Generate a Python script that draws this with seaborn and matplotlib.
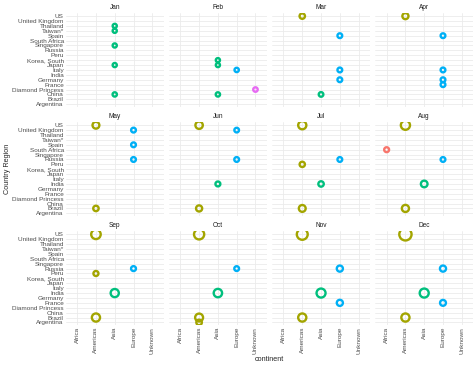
import pandas as pd
import numpy as np
import matplotlib
matplotlib.use("Agg")
import matplotlib.pyplot as plt
import seaborn as sns

# categories
months = ["Jan", "Feb", "Mar", "Apr", "May", "Jun",
          "Jul", "Aug", "Sep", "Oct", "Nov", "Dec"]
continents = ["Africa", "Americas", "Asia", "Europe", "Unknown"]
countries = ["Argentina", "Brazil", "China", "Diamond Princess", "France",
             "Germany", "India", "Italy", "Japan", "Korea, South", "Peru",
             "Russia", "Singapore", "South Africa", "Spain", "Taiwan*",
             "Thailand", "United Kingdom", "US"]
country_continent = ["Americas", "Americas", "Asia", "Unknown", "Europe",
                     "Europe", "Asia", "Europe", "Asia", "Asia", "Americas",
                     "Europe", "Asia", "Africa", "Europe", "Asia",
                     "Asia", "Europe", "Americas"]

point_month = (["Jan"] * 5 + ["Feb"] * 5 + ["Mar"] * 5 + ["Apr"] * 5 +
               ["May"] * 5 + ["Jun"] * 5 + ["Jul"] * 5 + ["Aug"] * 5 +
               ["Sep"] * 5 + ["Oct"] * 5 + ["Nov"] * 5 + ["Dec"] * 5)
point_country = [
    "Thailand", "Taiwan*", "Singapore", "Japan", "China",
    "Korea, South", "Japan", "Italy", "Diamond Princess", "China",
    "US", "Spain", "Italy", "Germany", "China",
    "US", "Spain", "Italy", "Germany", "France",
    "US", "United Kingdom", "Spain", "Russia", "Brazil",
    "US", "United Kingdom", "Russia", "India", "Brazil",
    "US", "Peru", "Russia", "India", "Brazil",
    "US", "South Africa", "Russia", "India", "Brazil",
    "US", "Russia", "Peru", "India", "Brazil",
    "US", "Russia", "India", "Brazil", "Argentina",
    "US", "Russia", "India", "France", "Brazil",
    "US", "Russia", "India", "France", "Brazil",
]
point_cases = [
    0, 0, 0, 0, 1,
    0, 0, 1, 2, 1,
    9, 4, 4, 4, 3,
    15, 4, 4, 4, 4,
    22, 4, 4, 4, 9,
    28, 3, 4, 5, 15,
    37, 8, 4, 9, 22,
    50, 5, 4, 20, 25,
    55, 5, 6, 37, 37,
    65, 4, 40, 34, 10,
    76, 15, 48, 15, 37,
    100, 15, 48, 13, 37,
]

df = pd.DataFrame({"month": point_month, "country": point_country,
                   "cases": point_cases})
df["continent"] = df["country"].map(dict(zip(countries, country_continent)))
df["cx"] = pd.Categorical(df["continent"], categories=continents).codes
df["cy"] = pd.Categorical(df["country"], categories=countries).codes

palette = dict(zip(continents, ["#F8766D", "#A3A500", "#00BF7D", "#00B0F6", "#E76BF3"]))

sns.set_style("white")
plt.rcParams["font.family"] = ["Liberation Sans", "DejaVu Sans"]

g = sns.relplot(data=df, x="cx", y="cy", col="month", col_order=months, col_wrap=4,
                hue="continent", hue_order=continents, palette=palette,
                size="cases", sizes=(9, 78), size_norm=(0, 100),
                linewidth=1.7, legend=False, height=1.2, aspect=1.0)
g.figure.set_size_inches(4.74, 3.66)
g.figure.subplots_adjust(left=0.139, right=0.998, top=0.964, bottom=0.111,
                         wspace=0.056, hspace=0.161)
g.set_titles("{col_name}", size=4.7, color="#1A1A1A", pad=3)

axes = g.axes.flat
axes[0].set_xticks(range(len(continents)))
axes[0].set_xticklabels(continents)
axes[0].set_yticks(range(len(countries)))
axes[0].set_yticklabels(countries)

for i, ax in enumerate(axes):
    # hollow rings like ggplot shape 1
    for coll in ax.collections:
        coll.set_edgecolors(coll.get_facecolors())
        coll.set_facecolors("none")
    ax.set_xlim(-0.6, len(continents) - 0.4)
    ax.set_ylim(-0.6, len(countries) - 0.4)
    ax.grid(True, color="#EBEBEB", lw=0.6)
    ax.set_axisbelow(True)
    sns.despine(ax=ax, left=True, bottom=True)
    ax.set_xlabel("")
    ax.set_ylabel("")
    ax.tick_params(length=0, labelsize=4.6, labelcolor="#4D4D4D", pad=1.5)
    ax.tick_params(axis="x", labelrotation=90, pad=1)
    ax.tick_params(labelbottom=(i >= 8), labelleft=(i % 4 == 0))

g.figure.text(8 / 474, 0.538, "Country Region", rotation=90, ha="center", va="center",
              fontsize=5.2)
g.figure.text(0.569, 0.019, "continent", ha="center", va="center", fontsize=5.2)

plt.savefig("out.png", dpi=100)
